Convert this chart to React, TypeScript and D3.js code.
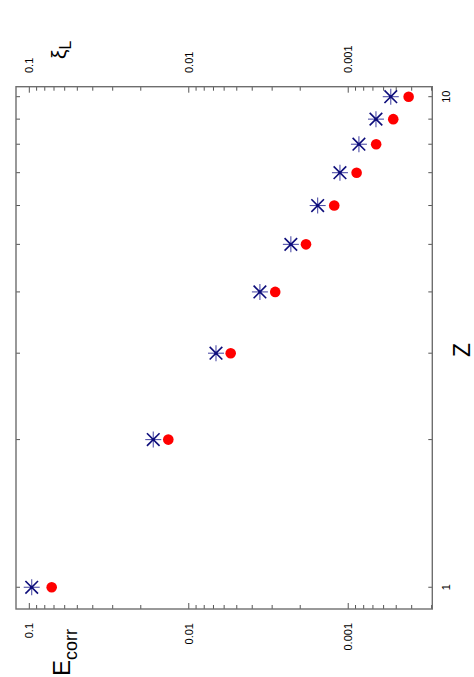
import React from "react";
import * as d3 from "d3";

const zValues = [1, 2, 3, 4, 5, 6, 7, 8, 9, 10];
const xiL = [0.0966, 0.0167, 0.00675, 0.00358, 0.00229, 0.001555, 0.001127, 0.000857, 0.00067, 0.000541];
const eCorr = [0.0724, 0.01344, 0.00546, 0.00287, 0.00184, 0.001224, 0.000886, 0.000668, 0.000522, 0.000418];
const majorTicks = [0.1, 0.01, 0.001];
const majorLabels = ["0.1", "0.01", "0.001"];
const zLabelTicks = [1, 10];
const zLabels = ["1", "10"];

const W = 474;
const H = 677;
const left = 16, right = 432.3, top = 86.7, bottom = 609;

export default function App() {
  const x = d3.scaleLog().domain([0.1212, 0.000297]).range([left, right]);
  const y = d3.scaleLog().domain([0.903, 10.48]).range([bottom, top]);

  const minor: number[] = [];
  [0.01, 0.001, 0.0001].forEach((dec) => {
    for (let k = 2; k <= 9; k++) {
      const v = dec * k;
      if (v <= 0.1 && v >= 0.000297) minor.push(v);
    }
  });

  const font = "'Liberation Sans', Arial, Helvetica, sans-serif";
  const frame = "#6e6e6e";
  const tickCol = "#555";
  const navy = "#0c0c7a";

  return (
    <svg width={W} height={H} style={{ position: "absolute", left: 0, top: 0 }} fontFamily={font}>
      <rect x={0} y={0} width={W} height={H} fill="#fff" />
      {majorTicks.map((v) => (
        <g key={"M" + v}>
          <line x1={x(v)} x2={x(v)} y1={bottom} y2={bottom - 6} stroke={tickCol} strokeWidth={1} />
          <line x1={x(v)} x2={x(v)} y1={top} y2={top + 6} stroke={tickCol} strokeWidth={1} />
        </g>
      ))}
      {minor.map((v) => (
        <g key={"m" + v}>
          <line x1={x(v)} x2={x(v)} y1={bottom} y2={bottom - 4} stroke={tickCol} strokeWidth={1} />
          <line x1={x(v)} x2={x(v)} y1={top} y2={top + 4} stroke={tickCol} strokeWidth={1} />
        </g>
      ))}
      {zValues.map((z) => (
        <g key={"z" + z}>
          <line x1={left} x2={left + 4} y1={y(z)} y2={y(z)} stroke={tickCol} strokeWidth={1} />
          <line x1={right} x2={right - 4} y1={y(z)} y2={y(z)} stroke={tickCol} strokeWidth={1} />
        </g>
      ))}
      <rect x={left} y={top} width={right - left} height={bottom - top} fill="none" stroke={frame} strokeWidth={1.4} />

      {majorTicks.map((v, i) => (
        <g key={"l" + v} fontSize={11} fill="#000">
          <text transform={`translate(${x(v)},623) rotate(-90)`} textAnchor="end" dy="0.35em">{majorLabels[i]}</text>
          <text transform={`translate(${x(v)},73) rotate(-90)`} textAnchor="start" dy="0.35em">{majorLabels[i]}</text>
        </g>
      ))}
      {zLabelTicks.map((z, i) => (
        <text key={"zl" + z} transform={`translate(446,${y(z)}) rotate(-90)`} textAnchor="middle" dy="0.35em" fontSize={11}>{zLabels[i]}</text>
      ))}

      <text transform="translate(470,350) rotate(-90)" textAnchor="middle" fontSize={23}>Z</text>
      <text transform="translate(70,676) rotate(-90)" fontSize={24}>
        E<tspan fontSize={18} dy={7}>corr</tspan>
      </text>
      <text transform="translate(66,59) rotate(-90)" fontSize={21}>
        ξ<tspan fontSize={16} dy={5}>L</tspan>
      </text>

      {zValues.map((z, i) => (
        <circle key={"e" + z} cx={x(eCorr[i])} cy={y(z)} r={5.3} fill="#ff0000" />
      ))}
      {zValues.map((z, i) => {
        const cx = x(xiL[i]);
        const cy = y(z);
        const s = 8;
        const d = 6.3;
        return (
          <g key={"s" + z}>
            <line x1={cx - s} x2={cx + s} y1={cy} y2={cy} stroke="#5050a8" strokeWidth={1.1} />
            <line x1={cx} x2={cx} y1={cy - s} y2={cy + s} stroke="#5050a8" strokeWidth={1.1} />
            <line x1={cx - d} x2={cx + d} y1={cy - d} y2={cy + d} stroke={navy} strokeWidth={1.6} />
            <line x1={cx - d} x2={cx + d} y1={cy + d} y2={cy - d} stroke={navy} strokeWidth={1.6} />
            <circle cx={cx} cy={cy} r={1.6} fill={navy} />
          </g>
        );
      })}
    </svg>
  );
}
